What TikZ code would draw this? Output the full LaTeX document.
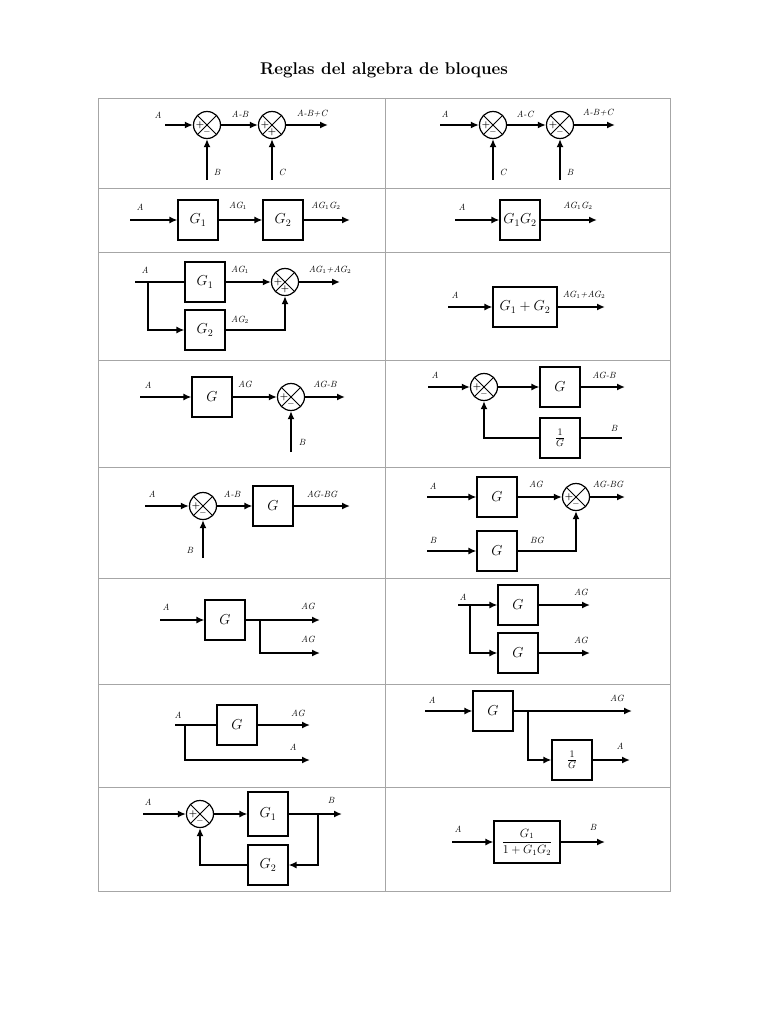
\documentclass[tikz,border=0pt]{standalone}
\usetikzlibrary{arrows.meta}
\begin{document}
\begin{tikzpicture}[x=1pt,y=-1pt,
 ln/.style={line width=2pt},
 ar/.style={line width=2pt,-{Latex[length=8pt,width=7pt]}},
 blk/.style={draw,line width=1.1pt,minimum width=40pt,minimum height=40pt,inner sep=1pt,font=\Large},
 sum/.style={circle,draw,line width=1.2pt,minimum size=27pt,inner sep=0pt,path picture={\draw[line width=0.9pt] (path picture bounding box.north west)--(path picture bounding box.south east) (path picture bounding box.north east)--(path picture bounding box.south west);}},
 sg/.style={font=\small\bfseries,inner sep=0pt},
 lb/.style={font=\small\itshape,inner sep=0pt},
 grid/.style={draw=gray!70,line width=0.8pt}]
\useasboundingbox (0,0) rectangle (768,1024);
\node[font=\fontsize{17}{20}\selectfont\bfseries] (title) at (384,70) {Reglas del algebra de bloques};
\draw[grid] (98,98) rectangle (670,891);
\foreach \y in {188,252,360,467,578,684,787} \draw[grid] (98,\y)--(670,\y);
\draw[grid] (385,98)--(385,891);
\newcommand{\sgn}[2]{\node[sg] at ([xshift=-7pt]#1.center) {+}; \node[sg] at ([yshift=-7pt]#1.center) {#2};}
% ---------- Row 1 left
\coordinate (a1) at (165,125); \node[sum] (s1) at (207,125) {}; \node[sum] (s2) at (272,125) {};
\coordinate (o1) at (328,125); \coordinate (b1) at (207,180); \coordinate (c1) at (272,180);
\draw[ar] (a1)--(s1); \draw[ar] (s1)--(s2); \draw[ar] (s2)--(o1); \draw[ar] (b1)--(s1); \draw[ar] (c1)--(s2);
\sgn{s1}{$-$} \sgn{s2}{+}
\node[lb] (l1) at (158,115) {A}; \node[lb] (l2) at (240,114) {A-B}; \node[lb] (l3) at (312,114) {A-B+C};
\node[lb] (l4) at (217,172) {B}; \node[lb] (l5) at (282,172) {C};
% ---------- Row 1 right
\coordinate (a2) at (440,125); \node[sum] (s3) at (493,125) {}; \node[sum] (s4) at (560,125) {};
\coordinate (o2) at (615,125); \coordinate (b2) at (493,180); \coordinate (c2) at (560,180);
\draw[ar] (a2)--(s3); \draw[ar] (s3)--(s4); \draw[ar] (s4)--(o2); \draw[ar] (b2)--(s3); \draw[ar] (c2)--(s4);
\sgn{s3}{$-$} \sgn{s4}{$-$}
\node[lb] (l6) at (445,114) {A}; \node[lb] (l7) at (525,114) {A-C}; \node[lb] (l8) at (598,113) {A-B+C};
\node[lb] (l9) at (503,172) {C}; \node[lb] (l10) at (570,172) {B};
% ---------- Row 2
\coordinate (a3) at (130,220); \node[blk] (g1) at (198,220) {$G_1$}; \node[blk] (g2) at (283,220) {$G_2$}; \coordinate (o3) at (350,220);
\draw[ar] (a3)--(g1); \draw[ar] (g1)--(g2); \draw[ar] (g2)--(o3);
\node[lb] (l11) at (140,207) {A}; \node[lb] (l12) at (238,206) {AG$_1$}; \node[lb] (l13) at (326,206) {AG$_1$G$_2$};
\coordinate (a4) at (455,220); \node[blk] (g3) at (520,220) {$G_1G_2$}; \coordinate (o4) at (597,220);
\draw[ar] (a4)--(g3); \draw[ar] (g3)--(o4);
\node[lb] (l14) at (462,207) {A}; \node[lb] (l15) at (578,206) {AG$_1$G$_2$};
% ---------- Row 3 left
\coordinate (a5) at (135,282); \node[blk] (g4) at (205,282) {$G_1$}; \node[blk] (g5) at (205,330) {$G_2$};
\node[sum] (s5) at (285,282) {}; \coordinate (o5) at (340,282); \coordinate (br5) at (148,282);
\draw[ln] (a5)--(g4); \draw[ar] (g4)--(s5); \draw[ar] (s5)--(o5);
\draw[ar] (br5)|-(g5); \draw[ar] (g5)-|(s5);
\sgn{s5}{+}
\node[lb] (l16) at (145,270) {A}; \node[lb] (l17) at (240,270) {AG$_1$}; \node[lb] (l18) at (330,270) {AG$_1$+AG$_2$}; \node[lb] (l19) at (240,320) {AG$_2$};
% ---------- Row 3 right
\coordinate (a6) at (448,307); \node[blk,minimum width=64pt] (g6) at (525,307) {$G_1+G_2$}; \coordinate (o6) at (605,307);
\draw[ar] (a6)--(g6); \draw[ar] (g6)--(o6);
\node[lb] (l20) at (455,295) {A}; \node[lb] (l21) at (584,295) {AG$_1$+AG$_2$};
% ---------- Row 4 left
\coordinate (a7) at (140,397); \node[blk] (g7) at (212,397) {$G$}; \node[sum] (s6) at (291,397) {}; \coordinate (o7) at (345,397); \coordinate (b7) at (291,452);
\draw[ar] (a7)--(g7); \draw[ar] (g7)--(s6); \draw[ar] (s6)--(o7); \draw[ar] (b7)--(s6);
\sgn{s6}{$-$}
\node[lb] (l22) at (148,385) {A}; \node[lb] (l23) at (245,384) {AG}; \node[lb] (l24) at (325,384) {AG-B}; \node[lb] (l25) at (302,442) {B};
% ---------- Row 4 right
\coordinate (a8) at (428,387); \node[sum] (s7) at (484,387) {}; \node[blk] (g8) at (560,387) {$G$}; \coordinate (o8) at (625,387);
\node[blk] (g9) at (560,438) {$\frac{1}{G}$}; \coordinate (b8) at (622,438);
\draw[ar] (a8)--(s7); \draw[ar] (s7)--(g8); \draw[ar] (g8)--(o8); \draw[ln] (g9)--(b8); \draw[ar] (g9)-|(s7);
\sgn{s7}{$-$}
\node[lb] (l26) at (435,375) {A}; \node[lb] (l27) at (604,375) {AG-B}; \node[lb] (l28) at (614,428) {B};
% ---------- Row 5 left
\coordinate (a9) at (145,506); \node[sum] (s8) at (203,506) {}; \node[blk] (g10) at (273,506) {$G$}; \coordinate (o9) at (350,506); \coordinate (b9) at (203,558);
\draw[ar] (a9)--(s8); \draw[ar] (s8)--(g10); \draw[ar] (g10)--(o9); \draw[ar] (b9)--(s8);
\sgn{s8}{$-$}
\node[lb] (l29) at (152,494) {A}; \node[lb] (l30) at (232,494) {A-B}; \node[lb] (l31) at (322,494) {AG-BG}; \node[lb] (l32) at (190,550) {B};
% ---------- Row 5 right
\coordinate (a10) at (427,497); \node[blk] (g11) at (497,497) {$G$}; \node[sum] (s9) at (576,497) {}; \coordinate (o10) at (625,497);
\coordinate (b10) at (427,551); \node[blk] (g12) at (497,551) {$G$};
\draw[ar] (a10)--(g11); \draw[ar] (g11)--(s9); \draw[ar] (s9)--(o10); \draw[ar] (b10)--(g12); \draw[ar] (g12)-|(s9);
\sgn{s9}{$-$}
\node[lb] (l33) at (433,486) {A}; \node[lb] (l34) at (536,484) {AG}; \node[lb] (l35) at (608,484) {AG-BG}; \node[lb] (l36) at (433,540) {B}; \node[lb] (l37) at (537,540) {BG};
% ---------- Row 6 left
\coordinate (a11) at (160,620); \node[blk] (g13) at (225,620) {$G$}; \coordinate (o11) at (320,620); \coordinate (br11) at (260,620); \coordinate (o12) at (320,653);
\draw[ar] (a11)--(g13); \draw[ar] (g13)--(o11); \draw[ar] (br11)|-(o12);
\node[lb] (l38) at (166,607) {A}; \node[lb] (l39) at (308,606) {AG}; \node[lb] (l40) at (308,639) {AG};
% ---------- Row 6 right
\coordinate (a12) at (458,605); \coordinate (br12) at (470,605); \node[blk] (g14) at (518,605) {$G$}; \node[blk] (g15) at (518,653) {$G$};
\coordinate (o13) at (590,605); \coordinate (o14) at (590,653);
\draw[ar] (a12)--(g14); \draw[ar] (br12)|-(g15); \draw[ar] (g14)--(o13); \draw[ar] (g15)--(o14);
\node[lb] (l41) at (463,597) {A}; \node[lb] (l42) at (581,592) {AG}; \node[lb] (l43) at (581,640) {AG};
% ---------- Row 7 left
\coordinate (a13) at (175,725); \coordinate (br13) at (185,725); \node[blk] (g16) at (237,725) {$G$}; \coordinate (o15) at (310,725); \coordinate (o16) at (310,760);
\draw[ln] (a13)--(g16); \draw[ar] (g16)--(o15); \draw[ar] (br13)|-(o16);
\node[lb] (l44) at (178,715) {A}; \node[lb] (l45) at (298,713) {AG}; \node[lb] (l46) at (293,747) {A};
% ---------- Row 7 right
\coordinate (a14) at (425,711); \node[blk] (g17) at (493,711) {$G$}; \coordinate (o17) at (632,711); \coordinate (br14) at (528,711);
\node[blk] (g18) at (572,760) {$\frac{1}{G}$}; \coordinate (o18) at (630,760);
\draw[ar] (a14)--(g17); \draw[ar] (g17)--(o17); \draw[ar] (br14)|-(g18); \draw[ar] (g18)--(o18);
\node[lb] (l47) at (432,700) {A}; \node[lb] (l48) at (617,698) {AG}; \node[lb] (l49) at (620,746) {A};
% ---------- Row 8 left
\coordinate (a15) at (143,814); \node[sum] (s10) at (200,814) {}; \node[blk,minimum height=44pt] (g19) at (268,814) {$G_1$}; \coordinate (o19) at (342,814);
\coordinate (br15) at (318,814); \node[blk] (g20) at (268,865) {$G_2$};
\draw[ar] (a15)--(s10); \draw[ar] (s10)--(g19); \draw[ar] (g19)--(o19); \draw[ar] (br15)|-(g20); \draw[ar] (g20)-|(s10);
\sgn{s10}{$-$}
\node[lb] (l50) at (148,802) {A}; \node[lb] (l51) at (331,800) {B};
% ---------- Row 8 right
\coordinate (a16) at (452,842); \node[blk,minimum width=66pt,minimum height=42pt,font=\large] (g21) at (527,842) {$\displaystyle\frac{G_1}{1+G_1G_2}$}; \coordinate (o20) at (605,842);
\draw[ar] (a16)--(g21); \draw[ar] (g21)--(o20);
\node[lb] (l52) at (458,829) {A}; \node[lb] (l53) at (593,827) {B};
\end{tikzpicture}
\end{document}
